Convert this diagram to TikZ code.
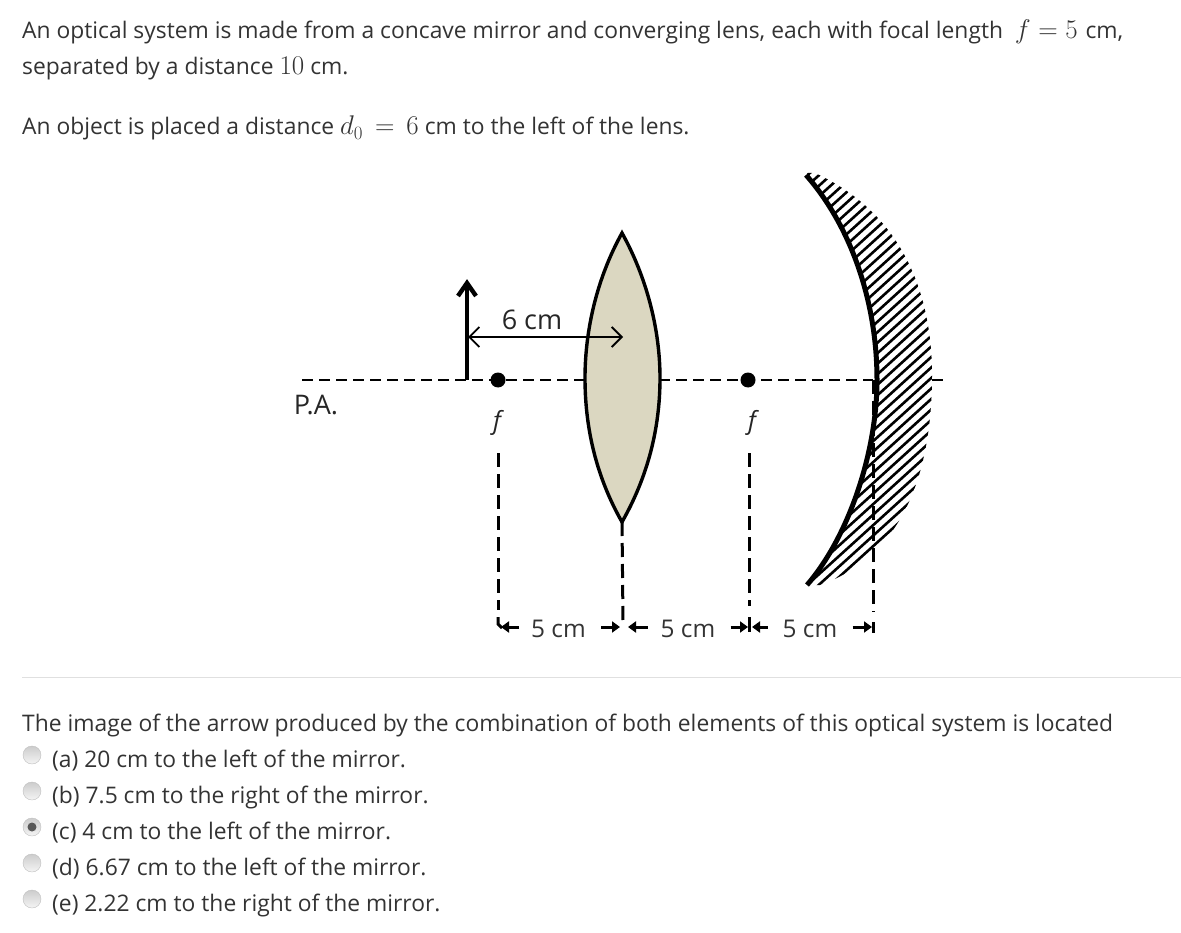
\documentclass[tikz,border=0pt]{standalone}
\usepackage{fix-cm}
\usepackage{fontspec}
\setmainfont{Open Sans}
\usetikzlibrary{arrows.meta}
\definecolor{bodytext}{HTML}{333333}
\definecolor{lensfill}{HTML}{DBD7C1}
\def\bigmath#1{{\fontsize{27}{28}\selectfont\(#1\)}}
\tikzset{
	para/.style={anchor=base west, inner sep=0, text=bodytext, font=\fontsize{22.83}{28}\selectfont},
	lab/.style={inner sep=0, text=black!85, font=\fontsize{27}{30}\selectfont},
	dimlab/.style={inner sep=0, text=black!80, font=\fontsize{24.4}{28}\selectfont},
	focuslab/.style={inner sep=0, text=black!85, font=\fontsize{25}{28}\selectfont\itshape},
	axisdash/.style={line width=2.5pt, dash pattern=on 10.5pt off 6.5pt},
	dropdash/.style={line width=3pt, dash pattern=on 14pt off 7pt},
	dimarrow/.style={line width=3pt, -{Triangle[length=8pt,width=11pt]}},
	radio/.style={draw=black!25, top color=black!20, bottom color=black!4},
	fdot/.style={circle, fill=black, inner sep=0, minimum size=15pt}
}

\begin{document}
\begin{tikzpicture}[x=1pt,y=-1pt]
	%%%%% START %%%%%
	\useasboundingbox (0, 0) rectangle (1181, 933);
	
	\node[para] (line1) at (22, 39) {An optical system is made from a concave mirror and converging lens, each with focal length \ \bigmath{f=5}\kern2pt{} cm,};
	\node[para] (line2) at (22, 75) {separated by a distance \bigmath{10} cm.};
	\node[para] (line3) at (22, 135) {An object is placed a distance \bigmath{d_0\,=\,6} cm to the left of the lens.};
	
	\draw[black!12, line width=1pt] (22, 677) -- (1181, 677);
	
	\coordinate (axisL) at (302, 380);
	\coordinate (axisR) at (943, 380);
	\coordinate (mirOut) at (932, 380);
	\coordinate (objBase) at (467, 380);
	\coordinate (objTip) at (467, 283);
	\coordinate (barbL) at (458, 296);
	\coordinate (barbR) at (476, 296);
	\coordinate (lensTop) at (622, 233);
	\coordinate (lensBot) at (622, 522);
	\coordinate (lensMid) at (623, 337);
	\coordinate (objMid) at (468, 337);
	\coordinate (lensEnd) at (623, 622);
	\coordinate (focLEnd) at (498, 610);
	\coordinate (focREnd) at (749, 606);
	\coordinate (mirMid) at (873, 380);
	\coordinate (mirEnd) at (873, 612);
	
	\draw[axisdash] (axisL) -- (mirMid);
	\draw[axisdash] (mirOut) -- (axisR);
	
	% mirror
	\begin{scope}
		\clip (806, 173) .. controls (850, 225) and (877, 300) .. (877, 380)
			.. controls (877, 450) and (850, 535) .. (807, 585)
			-- (820, 585) .. controls (905, 555) and (932, 470) .. (932, 375)
			.. controls (932, 290) and (900, 212) .. (815, 173) -- cycle;
		\foreach \c in {170, 180.5, ..., 640}
			\draw[line width=2.6pt] (790, \c) -- (950, \c-145);
	\end{scope}
	\draw[line width=5pt] (806, 175) .. controls (850, 225) and (877, 300) .. (877, 380)
		.. controls (877, 450) and (850, 535) .. (807, 585);
	
	% lens
	\draw[fill=lensfill, line width=3.4pt, line join=miter] (lensTop) .. controls (597, 278) and (585, 330) .. (585, 378)
		.. controls (585, 430) and (597, 478) .. (lensBot)
		.. controls (647, 478) and (660, 430) .. (660, 378)
		.. controls (660, 330) and (647, 278) .. cycle;
	
	% object and 6 cm
	\draw[line width=4.6pt] (objBase) -- (objTip);
	\draw[line width=4.4pt] (barbL) -- (objTip) -- (barbR);
	\draw[line width=1.8pt, {Straight Barb[length=10pt,width=20pt]}-{Straight Barb[length=10pt,width=20pt]}] (objMid) -- (lensMid);
	\node[lab] (sixcm) at (532, 320) {6 cm};
	
	\node[fdot] (focL) at (498, 380) {};
	\node[fdot] (focR) at (748, 380) {};
	\node[lab] (axislab) at (316, 405) {P.A.};
	\node[focuslab] (fL) at (497, 423) {f};
	\node[focuslab] (fR) at (752, 423) {f};
	
	% drop lines
	\draw[dropdash] (498, 453) -- (focLEnd);
	\draw[dropdash] (lensBot) -- (lensEnd);
	\draw[dropdash] (749, 453) -- (focREnd);
	\draw[dropdash] (mirMid) -- (mirEnd);
	
	% dimension row
	\node[dimlab] (dimA) at (558.5, 629) {5 cm};
	\node[dimlab] (dimB) at (688, 629) {5 cm};
	\node[dimlab] (dimC) at (810, 629) {5 cm};
	\coordinate (tickA) at (501, 627);
	\coordinate (tickB) at (620, 627);
	\coordinate (tickBb) at (628, 627);
	\coordinate (tickC) at (748, 627);
	\coordinate (tickCb) at (752, 627);
	\coordinate (tickD) at (872, 627);
	\draw[line width=3pt] (498, 617) -- (498, 624) -- (502, 628);
	\draw[line width=3pt] (749, 617) -- (749, 632);
	\draw[line width=3pt] (873, 622) -- (873, 633);
	\draw[dimarrow] ([shift={(-12, -2)}]dimA.west) -- (tickA);
	\draw[dimarrow] ([shift={(15, -2)}]dimA.east) -- (tickB);
	\draw[dimarrow] ([shift={(-13, -2)}]dimB.west) -- (tickBb);
	\draw[dimarrow] ([shift={(15, -2)}]dimB.east) -- (tickC);
	\draw[dimarrow] ([shift={(-15, -2)}]dimC.west) -- (tickCb);
	\draw[dimarrow] ([shift={(15, -2)}]dimC.east) -- (tickD);
	
	\node[para] (question) at (22, 731) {The image of the arrow produced by the combination of both elements of this optical system is located};
	
	\draw[radio] (32, 755) circle (9);
	\draw[radio] (32, 791) circle (9);
	\draw[radio] (32, 827) circle (9);
	\fill[black!65] (32, 827) circle (4.5);
	\draw[radio] (32, 863) circle (9);
	\draw[radio] (32, 899) circle (9);
	\node[para] (optA) at (52, 767) {(a) 20 cm to the left of the mirror.};
	\node[para] (optB) at (52, 803) {(b) 7.5 cm to the right of the mirror.};
	\node[para] (optC) at (52, 839) {(c) 4 cm to the left of the mirror.};
	\node[para] (optD) at (52, 875) {(d) 6.67 cm to the left of the mirror.};
	\node[para] (optE) at (52, 911) {(e) 2.22 cm to the right of the mirror.};
	%%%%% END %%%%%
\end{tikzpicture}
\end{document}
